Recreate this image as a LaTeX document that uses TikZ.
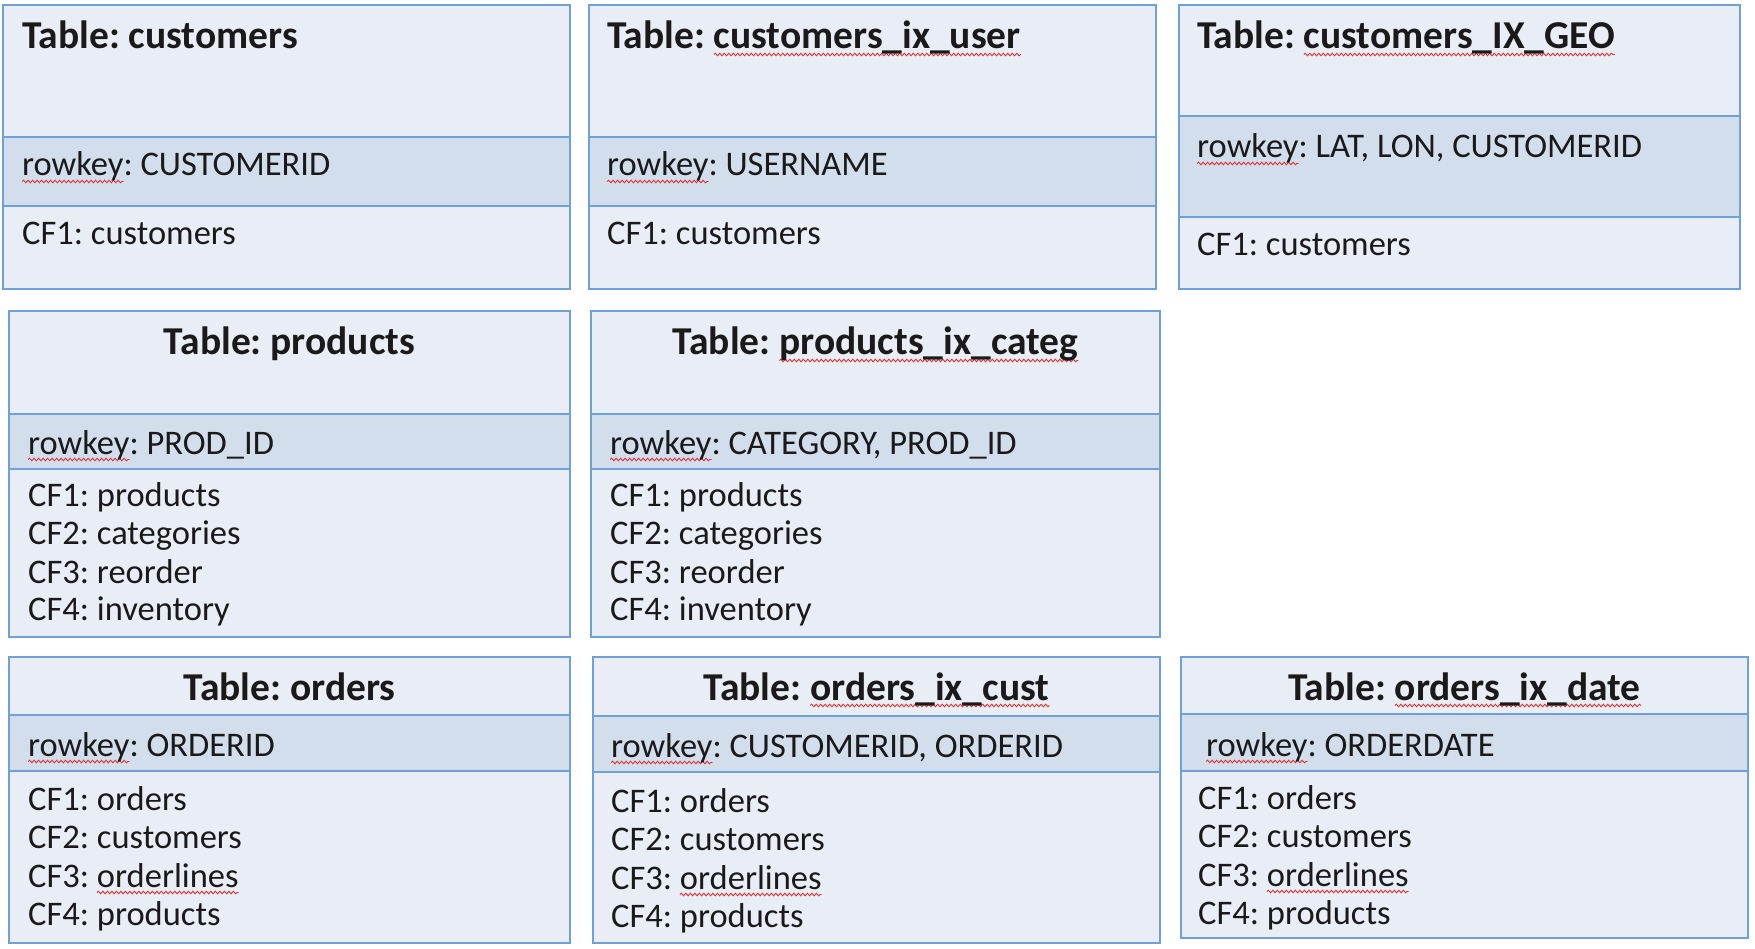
\documentclass[tikz,border=0pt]{standalone}
\usepackage{fontspec}
\setmainfont{Carlito}
\frenchspacing
\usetikzlibrary{decorations.pathmorphing}
\definecolor{cLight}{HTML}{E9EEF6}
\definecolor{cBand}{HTML}{D3DEED}
\definecolor{cBorder}{HTML}{6EA1DA}
\definecolor{cText}{HTML}{1A1A1A}
\definecolor{cRed}{HTML}{E03434}
\newsavebox\sqbox
\newlength\sqlen
\tikzset{
  bord/.style={draw=cBorder, line width=2.8pt},
  body/.style={font=\fontsize{34.5}{40}\selectfont, text=cText, inner sep=0pt, anchor=base west},
  head/.style={font=\fontsize{39.5}{46}\selectfont\bfseries, text=cText, inner sep=0pt, anchor=base west},
  headc/.style={head, anchor=base},
  squig/.style={draw=cRed, line width=0.9pt, decorate, decoration={snake, amplitude=1.3pt, segment length=4.5pt}}
}
\newcommand\sq[1]{\sbox\sqbox{#1}\setlength\sqlen{\wd\sqbox}\rlap{\tikz[overlay,baseline=0pt]\draw[squig] (0pt,-5.5pt) -- (\sqlen,-5.5pt);}\usebox\sqbox}
\newcommand\tbl[6]{%
  \fill[cLight] (#1,#2) rectangle (#3,#4);
  \fill[cBand] (#1,#5) rectangle (#3,#6);
  \draw[bord] (#1,#5) -- (#3,#5) (#1,#6) -- (#3,#6);
  \draw[bord] (#1,#2) rectangle (#3,#4);
}
\begin{document}
\begin{tikzpicture}[x=1pt,y=-1pt]
\useasboundingbox[fill=white] (0,0) rectangle (1755,949);
% row 1
\tbl{3}{5}{570}{289}{137}{206}
\tbl{589}{5}{1156}{289}{137}{206}
\tbl{1179}{5}{1740}{289}{116}{217}
% row 2
\tbl{9}{311}{570}{637}{414}{469}
\tbl{591}{311}{1160}{637}{414}{469}
% row 3
\tbl{9}{657}{570}{943}{715}{771}
\tbl{593}{657}{1160}{943}{716}{772}
\tbl{1181}{657}{1748}{938}{714}{771}

% customers
\node[head] (Ah) at (22,49) {Table: customers};
\node[body] (Ark) at (22,176) {\sq{rowkey}: CUSTOMERID};
\node[body] (Acf) at (22,245) {CF1: customers};
% customers_ix_user
\node[head] (Bh) at (607,49) {Table: \sq{customers\_ix\_user}};
\node[body] (Brk) at (607,176) {\sq{rowkey}: USERNAME};
\node[body] (Bcf) at (607,245) {CF1: customers};
% customers_IX_GEO
\node[head] (Ch) at (1197,49) {Table: \sq{customers\_IX\_GEO}};
\node[body] (Crk) at (1197,158) {\sq{rowkey}: LAT, LON, CUSTOMERID};
\node[body] (Ccf) at (1197,256) {CF1: customers};
% products
\node[headc] (Dh) at (289.5,355) {Table: products};
\node[body] (Drk) at (28,454) {\sq{rowkey}: PROD\_ID};
\node[body] (Dc1) at (28,506) {CF1: products};
\node[body] (Dc2) at (28,544) {CF2: categories};
\node[body] (Dc3) at (28,583) {CF3: reorder};
\node[body] (Dc4) at (28,620) {CF4: inventory};
% products_ix_categ
\node[headc] (Eh) at (875.5,355) {Table: \sq{products\_ix\_categ}};
\node[body] (Erk) at (610,454) {\sq{rowkey}: CATEGORY, PROD\_ID};
\node[body] (Ec1) at (610,506) {CF1: products};
\node[body] (Ec2) at (610,544) {CF2: categories};
\node[body] (Ec3) at (610,583) {CF3: reorder};
\node[body] (Ec4) at (610,620) {CF4: inventory};
% orders
\node[headc] (Fh) at (289.5,700) {Table: orders};
\node[body] (Frk) at (28,756) {\sq{rowkey}: ORDERID};
\node[body] (Fc1) at (28,810) {CF1: orders};
\node[body] (Fc2) at (28,848) {CF2: customers};
\node[body] (Fc3) at (28,887) {CF3: \sq{orderlines}};
\node[body] (Fc4) at (28,925) {CF4: products};
% orders_ix_cust
\node[headc] (Gh) at (876.5,700) {Table: \sq{orders\_ix\_cust}};
\node[body] (Grk) at (611,757) {\sq{rowkey}: CUSTOMERID, ORDERID};
\node[body] (Gc1) at (611,812) {CF1: orders};
\node[body] (Gc2) at (611,850) {CF2: customers};
\node[body] (Gc3) at (611,889) {CF3: \sq{orderlines}};
\node[body] (Gc4) at (611,927) {CF4: products};
% orders_ix_date
\node[headc] (Hh) at (1464.5,700) {Table: \sq{orders\_ix\_date}};
\node[body] (Hrk) at (1206,756) {\sq{rowkey}: ORDERDATE};
\node[body] (Hc1) at (1198,809) {CF1: orders};
\node[body] (Hc2) at (1198,847) {CF2: customers};
\node[body] (Hc3) at (1198,886) {CF3: \sq{orderlines}};
\node[body] (Hc4) at (1198,924) {CF4: products};
\end{tikzpicture}
\end{document}
